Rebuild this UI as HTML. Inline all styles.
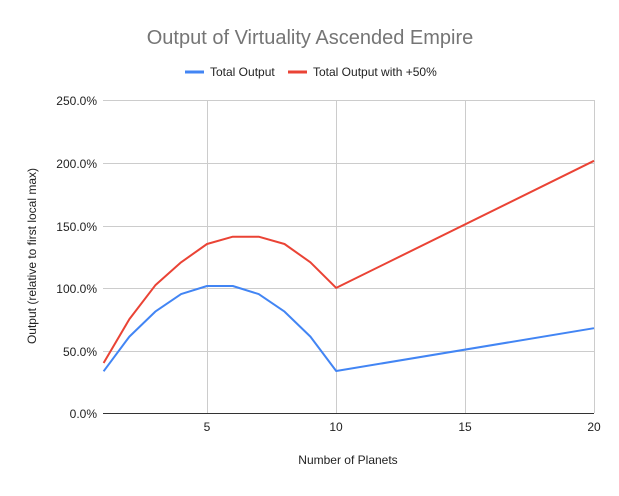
<!DOCTYPE html>
<html><head><meta charset="utf-8"><style>body{margin:0;background:#fff}</style></head>
<body>
<svg width="619" height="491" xmlns="http://www.w3.org/2000/svg" font-family="Liberation Sans, sans-serif">
<rect width="619" height="491" fill="#fff"/>
<text x="310" y="44" text-anchor="middle" font-size="20" fill="#757575">Output of Virtuality Ascended Empire</text>
<line x1="185" y1="72" x2="204" y2="72" stroke="#4285f4" stroke-width="3"/>
<text x="210" y="76" font-size="12" fill="#222">Total Output</text>
<line x1="288" y1="72" x2="307" y2="72" stroke="#ea4335" stroke-width="3"/>
<text x="313" y="76" font-size="12" fill="#222">Total Output with +50%</text>
<g stroke="#ccc" stroke-width="1">
<line x1="103" y1="100.5" x2="594" y2="100.5"/>
<line x1="103" y1="163.5" x2="594" y2="163.5"/>
<line x1="103" y1="226.5" x2="594" y2="226.5"/>
<line x1="103" y1="288.5" x2="594" y2="288.5"/>
<line x1="103" y1="351.5" x2="594" y2="351.5"/>
<line x1="207.5" y1="100" x2="207.5" y2="413"/>
<line x1="336.5" y1="100" x2="336.5" y2="413"/>
<line x1="465.5" y1="100" x2="465.5" y2="413"/>
<line x1="594.5" y1="100" x2="594.5" y2="413"/>
</g>
<line x1="103" y1="413.5" x2="594" y2="413.5" stroke="#333"/>
<g font-size="12" fill="#222" text-anchor="end">
<text x="97" y="105">250.0%</text>
<text x="97" y="168">200.0%</text>
<text x="97" y="231">150.0%</text>
<text x="97" y="293">100.0%</text>
<text x="97" y="356">50.0%</text>
<text x="97" y="418">0.0%</text>
</g>
<g font-size="12" fill="#222" text-anchor="middle">
<text x="207" y="431">5</text>
<text x="336" y="431">10</text>
<text x="465" y="431">15</text>
<text x="594" y="431">20</text>
<text x="348" y="464">Number of Planets</text>
</g>
<text transform="translate(36,256) rotate(-90)" font-size="12" fill="#222" text-anchor="middle">Output (relative to first local max)</text>
<polyline fill="none" stroke="#4285f4" stroke-width="2" stroke-linejoin="round" points="103.6,371.3 129.4,336.6 155.3,311.6 181.1,294.1 207,286 232.8,286 258.7,294.1 284.5,311.6 310.4,336.6 336.2,371 594,328.2"/>
<polyline fill="none" stroke="#ea4335" stroke-width="2" stroke-linejoin="round" points="103.6,363 129.4,319.1 155.3,285.3 181.1,262.3 207,244 232.8,236.7 258.7,236.7 284.5,244 310.4,262.3 336.2,287.9 594,160.8"/>
</svg>
</body></html>
